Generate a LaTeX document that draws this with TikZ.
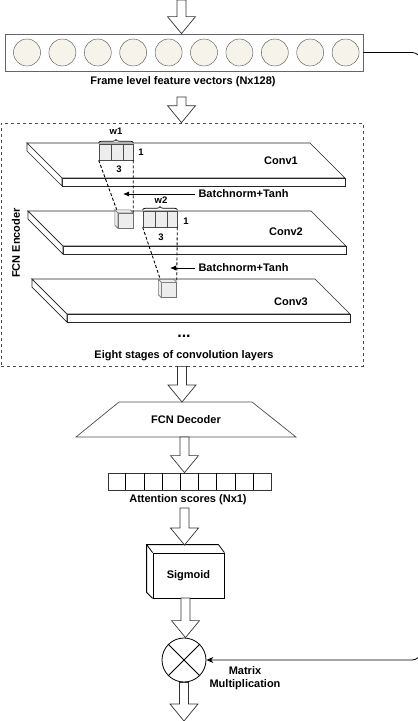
\documentclass[tikz,border=0pt]{standalone}
\usepackage{fontspec}
\setmainfont{Liberation Sans}
\usetikzlibrary{arrows.meta,calc,decorations.pathreplacing}

\begin{document}
\begin{tikzpicture}[x=1pt,y=-1pt,
  font=\fontsize{11}{13}\selectfont\bfseries,
  bigarrow/.style={draw=black!80,fill=white,line width=0.7pt},
  slab/.style={draw=black!85,fill=white,line width=0.7pt},
  cell/.style={draw=black!70,fill=black!7,line width=0.6pt,inner sep=0pt},
  cube/.style={draw=black!55,fill=black!7,line width=0.6pt},
  small/.style={font=\fontsize{9.5}{11}\selectfont\bfseries},
  guide/.style={densely dashed,line width=0.9pt},
  thinarrow/.style={-{Latex[length=6pt,width=5pt]},line width=0.8pt}]

  \useasboundingbox (0,0) rectangle (418,721);

  % Frame level feature vectors
  \node[draw=black!60,line width=0.8pt,minimum width=358pt,minimum height=37pt,inner sep=0pt] (feat) at (184,52.5) {};
  \foreach \i in {0,...,9}
    \node[circle,draw=black!70,fill={rgb,255:red,246;green,243;blue,234},minimum size=27pt,inner sep=0pt] (c\i) at (27+35.4*\i,52.5) {};
  \node (featlabel) at (183,82) {Frame level feature vectors (Nx128)};

  % Encoder frame
  \node[draw=black!70,dashed,line width=0.7pt,minimum width=362pt,minimum height=243pt,inner sep=0pt] (enc) at (182,244.5) {};
  \node[rotate=90] (enclabel) at (16,243) {FCN Encoder};

  % Conv slabs (back left corner)
  \foreach \x/\y in {27/143,28/211,32/279} {
    \draw[slab] (\x,\y) -- (\x+283,\y) -- (\x+318,\y+35) -- (\x+35,\y+35) -- cycle;
    \draw[slab] (\x+35,\y+35) rectangle (\x+318,\y+43);
    \draw[slab] (\x,\y) -- (\x+35,\y+35) -- (\x+35,\y+43) -- (\x,\y+8) -- cycle;
  }
  \node (conv1) at (281,161) {Conv1};
  \node (conv2) at (286,232) {Conv2};
  \node (conv3) at (291,302) {Conv3};

  % Kernels
  \node[cell,minimum width=34pt,minimum height=16pt] (k1) at (116,152) {};
  \node[cell,minimum width=34pt,minimum height=16pt] (k2) at (160,219) {};
  \foreach \k in {k1,k2}
    \foreach \f in {0.36,0.7}
      \draw[draw=black!70,line width=0.6pt] ($(\k.north west)!\f!(\k.north east)$) -- ($(\k.south west)!\f!(\k.south east)$);
  \draw[decorate,decoration={brace,amplitude=3pt,raise=1pt},line width=0.7pt] (k1.north west) -- (k1.north east);
  \draw[decorate,decoration={brace,amplitude=3pt,raise=1pt},line width=0.7pt] (k2.north west) -- (k2.north east);
  \node[small] (w1) at (116,131) {w1};
  \node[small] (w2) at (161,200) {w2};
  \node[small] (one1) at (141,152) {1};
  \node[small] (one2) at (186,221) {1};
  \node[small] (three1) at (119,169) {3};
  \node[small] (three2) at (161,237) {3};

  % Receptive field guides
  \node (cube1) at (125.5,220.5) [minimum size=15pt,inner sep=0pt] {};
  \node (cube2) at (169,290) [minimum size=15pt,inner sep=0pt] {};
  \draw[guide] (k1.south west) -- (cube1.north west);
  \draw[guide] (k1.south east) -- (cube1.north east);
  \draw[guide] (k2.south west) -- (cube2.north west);
  \draw[guide] (k2.south east) -- (cube2.north east);

  % Cubes
  \foreach \c in {cube1,cube2} {
    \draw[cube] (\c.north west) rectangle (\c.south east);
    \draw[cube] (\c.north west) -- ++(-3,-3) -- ([shift={(-3,-3)}]\c.north east) -- (\c.north east) -- cycle;
    \draw[cube] (\c.north west) -- ++(-3,-3) -- ([shift={(-3,-3)}]\c.south west) -- (\c.south west) -- cycle;
  }

  % Batchnorm+Tanh
  \node[anchor=west] (bn1) at (195,194) {Batchnorm+Tanh};
  \node[anchor=west] (bn2) at (195,268) {Batchnorm+Tanh};
  \coordinate (bn1tip) at (123,194);
  \coordinate (bn2tip) at (170,268);
  \draw[thinarrow] (bn1.west) -- (bn1tip);
  \draw[thinarrow] (bn2.west) -- (bn2tip);

  \node[font=\fontsize{16}{16}\selectfont\bfseries] (dots) at (184,336) {...};
  \node (enctext) at (184,356) {Eight stages of convolution layers};

  % FCN Decoder
  \draw[draw=black!70,line width=0.7pt] (119,402) -- (252,402) -- (296,437) -- (76,437) -- cycle;
  \node (dec) at (186,420) {FCN Decoder};
  \coordinate (dectop) at (182,402);
  \coordinate (decbot) at (184.5,437);

  % Attention scores
  \node[draw=black!80,line width=0.8pt,minimum width=163pt,minimum height=17pt,inner sep=0pt] (att) at (189.5,481.5) {};
  \foreach \i in {1,...,8}
    \draw[line width=0.7pt] ($(att.north west)!\i/9!(att.north east)$) -- ($(att.south west)!\i/9!(att.south east)$);
  \node (attlabel) at (188,500) {Attention scores (Nx1)};

  % Sigmoid
  \node[draw,line width=0.8pt,minimum width=71pt,minimum height=45pt,inner sep=0pt] (sig) at (188.5,575.5) {Sigmoid};
  \draw[line width=0.8pt] (sig.north west) -- ++(-6,-8) -- ([shift={(-6,-8)}]sig.north east) -- (sig.north east);
  \draw[line width=0.8pt] ([shift={(-6,-8)}]sig.north west) -- ([shift={(-6,-6)}]sig.south west) -- (sig.south west);

  % Matrix multiplication
  \node[circle,draw,line width=0.8pt,minimum size=44pt,inner sep=0pt] (mult) at (184,660) {};
  \draw[line width=0.8pt] (mult.north west) -- (mult.south east) (mult.north east) -- (mult.south west);
  \node[align=center] (multlabel) at (245,678) {Matrix\\Multiplication};

  % Skip connection
  \coordinate (rail) at (421,360);
  \draw[rounded corners=9pt,-{Stealth[length=7pt,width=6pt]},line width=0.8pt] (feat.east) -| (rail) |- (mult.east);

  % Block arrows
  \coordinate (in) at (181.5,0);
  \coordinate (a2) at (181.5,97);
  \coordinate (a5) at (184.5,508);
  \coordinate (sigtop) at (184.5,545);
  \coordinate (sigout) at (185.5,598);
  \coordinate (out) at (185,721);
  \foreach \a/\b in {in/feat.north,a2/enc.north,enc.south/dectop,decbot/att.north,a5/sigtop,sigout/mult.north,mult.south/out}
    \draw[bigarrow] let \p1=(\a), \p2=(\b) in
      (\x1-4.5pt,\y1) -- (\x1+4.5pt,\y1) -- (\x1+4.5pt,\y2+17pt) -- (\x1+14pt,\y2+17pt)
      -- (\x1,\y2) -- (\x1-14pt,\y2+17pt) -- (\x1-4.5pt,\y2+17pt) -- cycle;

\end{tikzpicture}
\end{document}
